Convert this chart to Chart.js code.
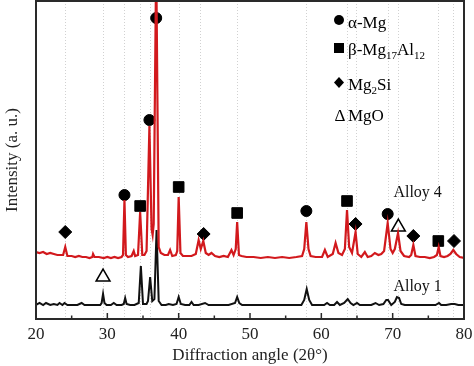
<!DOCTYPE html>
<html>
<head>
<meta charset="utf-8">
<script src="https://cdn.jsdelivr.net/npm/chart.js@4.4.0/dist/chart.umd.min.js"></script>
<style>
  html, body { margin: 0; padding: 0; background: #fff; }
  #wrap { width: 474px; height: 366px; }
</style>
</head>
<body>
<div id="wrap"><canvas id="xrd" width="474" height="366"></canvas></div>
<script>
// Alloy 4 pattern (stacked above Alloy 1), 2θ and intensity (a.u.)
const alloy4Angles = [20.0, 20.5, 21.0, 21.5, 22.0, 22.5, 23.0, 23.5, 23.8, 24.1, 24.4, 25.0, 25.5, 26.0, 26.5, 27.0, 27.5, 27.9, 28.0, 28.2,
  28.8, 29.5, 30.0, 30.5, 31.0, 31.5, 32.0, 32.2, 32.4, 32.6, 32.9, 33.4, 33.7, 33.9, 34.3, 34.6, 34.9, 35.2, 35.5, 35.9,
  36.2, 36.35, 36.5, 36.85, 37.2, 37.5, 38.0, 38.5, 38.8, 39.1, 39.6, 39.8, 40.0, 40.25, 40.6, 41.2, 41.8, 42.4, 42.8, 43.1,
  43.45, 43.8, 44.2, 44.6, 45.1, 45.7, 46.3, 46.9, 47.4, 47.7, 48.0, 48.2, 48.45, 48.8, 49.5, 50.5, 51.5, 52.5, 53.5, 54.5,
  55.5, 56.5, 57.3, 57.6, 57.9, 58.2, 58.5, 59.2, 60.1, 60.5, 60.9, 61.6, 62.0, 62.4, 62.9, 63.3, 63.6, 63.9, 64.3, 64.8,
  65.1, 65.6, 66.1, 66.5, 67.0, 67.5, 68.0, 68.4, 68.8, 69.3, 69.7, 70.0, 70.3, 70.75, 71.1, 71.6, 72.3, 72.6, 72.9, 73.2,
  73.8, 74.5, 75.2, 75.8, 76.2, 76.45, 76.7, 77.2, 77.7, 78.1, 78.5, 78.9, 79.4, 80.0];
const alloy4Counts = [67, 66, 67, 65, 66, 65, 64, 64, 64, 72, 63, 63, 62, 63, 62, 62, 61, 62, 65, 62,
  62, 61, 62, 61, 62, 61, 62, 64, 119, 64, 62, 63, 68, 63, 64, 107, 64, 64, 68, 193,
  90, 84, 95, 360, 72, 66, 64, 64, 69, 63, 64, 68, 122, 66, 63, 63, 63, 65, 79, 70,
  78, 66, 64, 66, 63, 62, 63, 62, 69, 64, 70, 97, 64, 63, 62, 62, 61, 62, 61, 62,
  61, 62, 63, 70, 97, 70, 63, 62, 62, 69, 62, 65, 76, 66, 64, 70, 109, 72, 66, 87,
  65, 62, 67, 62, 63, 66, 64, 65, 68, 96, 70, 66, 70, 86, 68, 63, 62, 64, 74, 63,
  62, 62, 61, 62, 64, 72, 63, 62, 63, 65, 69, 65, 62, 61];

// Alloy 1 pattern
const alloy1Angles = [20.0, 20.5, 21.0, 21.4, 22.0, 22.5, 23.0, 23.3, 23.7, 24.0, 24.4, 25.0, 25.8, 26.4, 26.8, 27.5, 28.3, 29.0, 29.2, 29.4,
  29.6, 29.9, 30.5, 30.9, 31.3, 32.0, 32.3, 32.5, 32.7, 33.2, 33.8, 34.4, 34.7, 35.0, 35.5, 35.7, 36.0, 36.3, 36.6, 36.9,
  37.2, 37.6, 38.2, 38.6, 39.2, 39.7, 40.0, 40.3, 40.9, 41.5, 41.8, 42.1, 42.8, 43.7, 44.2, 45.0, 46.0, 47.0, 47.9, 48.2,
  48.5, 48.9, 49.8, 51.0, 52.0, 53.0, 54.0, 55.0, 56.0, 57.2, 57.6, 57.95, 58.3, 58.7, 59.5, 60.4, 60.8, 61.2, 61.8, 62.2,
  62.6, 63.2, 63.7, 64.1, 64.5, 65.0, 65.4, 66.2, 67.0, 67.6, 68.1, 68.7, 69.1, 69.35, 69.8, 70.3, 70.6, 70.9, 71.2, 71.7,
  72.5, 73.3, 74.0, 75.0, 76.0, 76.5, 76.8, 77.5, 78.2, 78.7, 79.2, 80.0];
const alloy1Counts = [14, 16, 14, 16, 14, 15, 14, 16, 14, 16, 14, 14, 14, 16, 14, 14, 14, 14, 16, 25,
  16, 14, 14, 16, 14, 14, 15, 21, 15, 14, 14, 16, 53, 15, 15, 18, 42, 18, 20, 89,
  18, 14, 14, 15, 14, 15, 22, 15, 14, 14, 17, 14, 14, 16, 14, 14, 14, 14, 16, 22,
  16, 14, 14, 14, 14, 14, 14, 14, 14, 14, 19, 30, 19, 14, 14, 14, 16, 14, 14, 17,
  14, 16, 20, 16, 14, 16, 14, 14, 14, 16, 14, 15, 19, 19, 14, 17, 22, 21, 15, 14,
  14, 14, 14, 14, 14, 16, 14, 14, 15, 15, 14, 14];

// phase markers
const alphaMgAngles = [32.4, 35.9, 36.85, 57.9, 69.3];
const alphaMgLevels = [124, 199, 301, 108, 105];
const betaAngles = [34.6, 40.0, 48.2, 63.6, 76.4];
const betaLevels = [113, 132, 106, 118, 78];
const mg2SiAngles = [24.1, 43.5, 64.8, 72.9, 78.6];
const mg2SiLevels = [87, 85, 95, 83, 78];
const mgoAngles = [29.4, 70.8];
const mgoLevels = [42, 92];

// faint reference lines at peak positions
const refLines = [24.1, 29.4, 32.4, 34.6, 36.0, 40.0, 43.0, 48.2, 57.9, 63.6, 64.8, 69.3, 70.8, 76.4, 78.5];

const xTicks = [20, 30, 40, 50, 60, 70, 80];
const xMinor = [25, 35, 45, 55, 65, 75];

const SERIF = "'Liberation Serif', 'Times New Roman', serif";

function pts(xs, ys) {
    return xs.map((x, i) => ({ x: x, y: ys[i] }));
}

const overlay = {
    id: 'overlay',
    beforeDatasetsDraw(chart) {
        const { ctx, chartArea: a, scales: { x } } = chart;
        ctx.save();
        ctx.strokeStyle = 'rgba(0,0,0,0.18)';
        ctx.lineWidth = 1;
        ctx.setLineDash([1, 2]);
        refLines.forEach(v => {
            const px = Math.round(x.getPixelForValue(v)) + 0.5;
            ctx.beginPath();
            ctx.moveTo(px, a.top);
            ctx.lineTo(px, a.bottom);
            ctx.stroke();
        });
        ctx.restore();
    },
    afterDraw(chart) {
        const { ctx, chartArea: a, scales: { x, y } } = chart;
        ctx.save();
        // frame
        ctx.strokeStyle = '#2a2a2a';
        ctx.lineWidth = 2;
        ctx.strokeRect(a.left, a.top, a.right - a.left, a.bottom - a.top);
        // inward ticks
        ctx.lineWidth = 1.5;
        xTicks.forEach(v => {
            const px = x.getPixelForValue(v);
            ctx.beginPath(); ctx.moveTo(px, a.bottom); ctx.lineTo(px, a.bottom - 6); ctx.stroke();
        });
        xMinor.forEach(v => {
            const px = x.getPixelForValue(v);
            ctx.beginPath(); ctx.moveTo(px, a.bottom); ctx.lineTo(px, a.bottom - 3.5); ctx.stroke();
        });

        // sample labels
        ctx.fillStyle = '#111';
        ctx.font = '16px ' + SERIF;
        ctx.textAlign = 'center';
        ctx.textBaseline = 'middle';
        ctx.fillText('Alloy 4', x.getPixelForValue(73.5), y.getPixelForValue(126));
        ctx.fillText('Alloy 1', x.getPixelForValue(73.5), y.getPixelForValue(32));

        // phase legend
        const lx = 339, tx = 348;
        ctx.fillStyle = '#000';
        ctx.beginPath(); ctx.arc(lx, 20, 5, 0, Math.PI * 2); ctx.fill();
        ctx.fillRect(lx - 5, 43, 10, 10);
        ctx.beginPath();
        ctx.moveTo(lx, 77); ctx.lineTo(lx + 5, 82.5); ctx.lineTo(lx, 88); ctx.lineTo(lx - 5, 82.5);
        ctx.closePath(); ctx.fill();

        ctx.textAlign = 'left';
        ctx.textBaseline = 'alphabetic';
        function rich(parts, x0, base) {
            let cx = x0;
            parts.forEach(p => {
                ctx.font = (p[1] ? '11px ' : '17px ') + SERIF;
                const dy = p[1] ? 4 : 0;
                ctx.fillText(p[0], cx, base + dy);
                cx += ctx.measureText(p[0]).width;
            });
        }
        rich([['α-Mg', 0]], tx, 28);
        rich([['β-Mg', 0], ['17', 1], ['Al', 0], ['12', 1]], tx, 55);
        rich([['Mg', 0], ['2', 1], ['Si', 0]], tx, 90);
        ctx.font = '17px ' + SERIF;
        ctx.textAlign = 'center';
        ctx.fillText('Δ', 340, 121);
        ctx.textAlign = 'left';
        ctx.fillText('MgO', tx, 121);
        ctx.restore();
    }
};

const markerBase = {
    type: 'scatter',
    showLine: false,
    borderColor: '#000',
    backgroundColor: '#000',
    borderWidth: 1
};

new Chart(document.getElementById('xrd'), {
    type: 'line',
    data: {
        datasets: [
            {
                label: 'Alloy 4',
                data: pts(alloy4Angles, alloy4Counts),
                borderColor: '#d2191d',
                borderWidth: 2.2,
                pointRadius: 0,
                tension: 0
            },
            {
                label: 'Alloy 1',
                data: pts(alloy1Angles, alloy1Counts),
                borderColor: '#111',
                borderWidth: 2,
                pointRadius: 0,
                tension: 0
            },
            Object.assign({}, markerBase, { label: 'α-Mg', data: pts(alphaMgAngles, alphaMgLevels), pointStyle: 'circle', pointRadius: 5.5 }),
            Object.assign({}, markerBase, { label: 'β-Mg17Al12', data: pts(betaAngles, betaLevels), pointStyle: 'rect', pointRadius: 7.5 }),
            Object.assign({}, markerBase, { label: 'Mg2Si', data: pts(mg2SiAngles, mg2SiLevels), pointStyle: 'rectRot', pointRadius: 6.5 }),
            Object.assign({}, markerBase, { label: 'MgO', data: pts(mgoAngles, mgoLevels), pointStyle: 'triangle', pointRadius: 8, backgroundColor: '#fff', borderWidth: 1.5 })
        ]
    },
    options: {
        responsive: false,
        animation: false,
        events: [],
        layout: { autoPadding: false, padding: { top: 1, right: 10, left: 0, bottom: 0 } },
        plugins: {
            legend: { display: false },
            tooltip: { enabled: false }
        },
        scales: {
            x: {
                type: 'linear',
                min: 20,
                max: 80,
                afterFit: s => { s.height = 47; s.paddingLeft = 0; s.paddingRight = 0; },
                grid: { display: false, drawTicks: false },
                border: { display: false },
                ticks: {
                    stepSize: 10,
                    padding: 5,
                    color: '#222',
                    font: { family: SERIF, size: 17 }
                },
                title: {
                    display: true,
                    text: 'Diffraction angle (2θ°)',
                    color: '#222',
                    padding: { top: 0, bottom: 0 },
                    font: { family: SERIF, size: 17 }
                }
            },
            y: {
                min: 0,
                max: 318,
                afterFit: s => { s.width = 36; },
                grid: { display: false, drawTicks: false },
                border: { display: false },
                ticks: { display: false },
                title: {
                    display: true,
                    text: 'Intensity (a. u.)',
                    color: '#222',
                    padding: { top: 2, bottom: 0 },
                    font: { family: SERIF, size: 17 }
                }
            }
        }
    },
    plugins: [overlay]
});
</script>
</body>
</html>
